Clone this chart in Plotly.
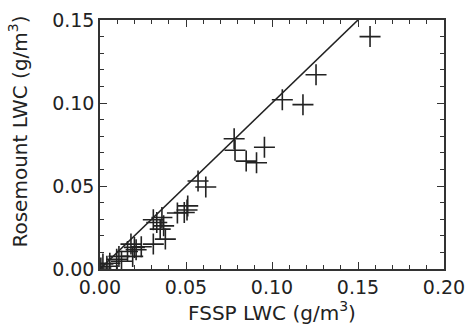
import plotly.graph_objects as go

# FSSP LWC (x) vs Rosemount LWC (y), g/m^3
fssp_lwc = [0.157, 0.1256, 0.106, 0.118, 0.078, 0.0785, 0.0956, 0.085, 0.091,
            0.057, 0.0615, 0.051, 0.049, 0.045, 0.0506,
            0.031, 0.036, 0.037, 0.035, 0.038, 0.031, 0.033,
            0.018, 0.020, 0.021, 0.016, 0.019, 0.024,
            0.011, 0.0097, 0.0125,
            0.0017, 0.004, 0.0005, 0.0057]
rosemount_lwc = [0.140, 0.117, 0.102, 0.099, 0.0785, 0.0715, 0.0733, 0.065, 0.064,
                 0.053, 0.0494, 0.038, 0.034, 0.0337, 0.0355,
                 0.0297, 0.031, 0.026, 0.024, 0.018, 0.015, 0.028,
                 0.015, 0.013, 0.0116, 0.0105, 0.0076, 0.0134,
                 0.0076, 0.0058, 0.0047,
                 0.003, 0.0017, 0.0006, 0.0035]

one_to_one_x = [0.0, 0.15]
one_to_one_y = [0.0, 0.15]

x_ticks = [0.00, 0.05, 0.10, 0.15, 0.20]
y_ticks = [0.00, 0.05, 0.10, 0.15]

x_title = "FSSP LWC (g/m<sup>3</sup>)"
y_title = "Rosemount LWC (g/m<sup>3</sup>)"

font_family = "DejaVu Sans, Verdana, sans-serif"
ink = "#222222"

fig = go.Figure()
fig.add_trace(go.Scatter(
    x=one_to_one_x, y=one_to_one_y, mode="lines",
    line=dict(color=ink, width=1.6), showlegend=False, hoverinfo="skip"))
fig.add_trace(go.Scatter(
    x=fssp_lwc, y=rosemount_lwc, mode="markers",
    marker=dict(symbol="cross-thin", size=15, line=dict(color=ink, width=1.6)),
    showlegend=False))

axis_common = dict(
    showline=True, linecolor="#333333", linewidth=1.5, mirror="allticks",
    ticks="inside", ticklen=7, tickwidth=1.2, tickcolor="#333333",
    showgrid=False, zeroline=False, tickformat=".2f",
    ticklabeloverflow="allow",
    tickfont=dict(family=font_family, size=19, color=ink),
    minor=dict(dtick=0.01, ticks="inside", ticklen=4, tickwidth=1.2,
               tickcolor="#333333", showgrid=False),
)

fig.update_xaxes(range=[0, 0.20], tickvals=x_ticks,
                 title=dict(text=x_title, standoff=9,
                            font=dict(family=font_family, size=20, color=ink)),
                 **axis_common)
fig.update_yaxes(range=[0, 0.15], tickvals=y_ticks, **axis_common)

fig.add_annotation(
    text=y_title, textangle=-90, showarrow=False,
    xref="paper", yref="paper", x=0, y=0.552,
    xanchor="center", yanchor="middle", xshift=-82,
    font=dict(family=font_family, size=20, color=ink))

fig.update_layout(
    width=474, height=332,
    margin=dict(l=100, r=22, t=9, b=63),
    paper_bgcolor="white", plot_bgcolor="white",
)

fig.write_html("out.html")
